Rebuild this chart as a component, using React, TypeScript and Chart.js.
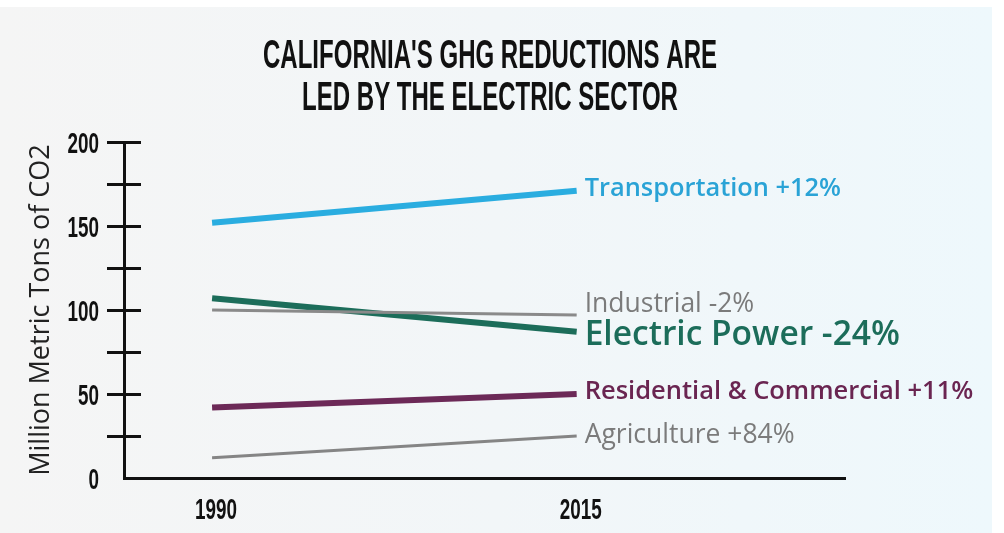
import React, { useEffect, useRef } from "react";
import { Chart, registerables } from "chart.js";

Chart.register(...registerables);

// ---- data ----
const TITLE_LINES = ["CALIFORNIA'S GHG REDUCTIONS ARE", "LED BY THE ELECTRIC SECTOR"];
const YEARS = [1990, 2015];
const SECTOR_LABELS = [
  "Transportation +12%",
  "Industrial -2%",
  "Electric Power -24%",
  "Residential & Commercial +11%",
  "Agriculture +84%",
];
const transportation = [152, 171];
const industrial = [100, 97];
const electricPower = [107, 87];
const residentialCommercial = [42, 50];
const agriculture = [12, 25];
const Y_AXIS_TITLE = "Million Metric Tons of CO2";
const Y_LABELED_STEP = 50;

// ---- styles ----
const SERIES_STYLE = [
  { line: "#2aade0", text: "#2aa3d6", width: 6, size: 25.4, weight: "600", dy: 5 },
  { line: "#8a8a8a", text: "#7b7b7b", width: 3, size: 26.5, weight: "400", dy: -3 },
  { line: "#1c6d5a", text: "#1c6d5a", width: 6, size: 33.5, weight: "600", dy: 13 },
  { line: "#6c2957", text: "#6a2551", width: 6, size: 25.5, weight: "600", dy: 5 },
  { line: "#858585", text: "#7b7b7b", width: 3, size: 26.5, weight: "400", dy: 7 },
];
const DISPLAY = "'Liberation Sans', Arial, sans-serif";
const SANS = "'Open Sans', 'Noto Sans', sans-serif";
const INK = "#111111";
const TITLE_WIDTH = 454; // width of the first title line
const TICK_SQUEEZE = 0.65;

const backgroundPlugin = {
  id: "panelBackground",
  beforeDraw(chart: any) {
    const { ctx } = chart;
    const g = ctx.createLinearGradient(0, 0, 992, 0);
    g.addColorStop(0, "#f5f5f5");
    g.addColorStop(0.5, "#f2f6f8");
    g.addColorStop(1, "#eef8fc");
    ctx.save();
    ctx.fillStyle = g;
    ctx.fillRect(0, 7, 992, chart.height - 7);
    ctx.restore();
  },
};

const titlePlugin = {
  id: "condensedTitle",
  afterDraw(chart: any) {
    const { ctx } = chart;
    ctx.save();
    ctx.fillStyle = INK;
    ctx.font = `bold 40px ${DISPLAY}`;
    ctx.textAlign = "center";
    ctx.textBaseline = "alphabetic";
    const squeeze = TITLE_WIDTH / ctx.measureText(TITLE_LINES[0]).width;
    const cx = 490;
    const baselines = [68, 110];
    TITLE_LINES.forEach((t, i) => {
      ctx.save();
      ctx.translate(cx, baselines[i]);
      ctx.scale(squeeze, 1);
      ctx.fillText(t, 0, 0);
      ctx.restore();
    });
    ctx.restore();
  },
};

// condensed tick labels placed from the scales' own ticks
const tickLabelPlugin = {
  id: "condensedTicks",
  afterDraw(chart: any) {
    const { ctx, chartArea } = chart;
    const xs = chart.scales.x;
    const ys = chart.scales.y;
    ctx.save();
    ctx.fillStyle = INK;
    ctx.font = `bold 29px ${DISPLAY}`;
    ctx.textBaseline = "alphabetic";
    // y axis
    ctx.textAlign = "right";
    ys.ticks.forEach((t: any) => {
      if (t.value % Y_LABELED_STEP !== 0) return;
      const py = ys.getPixelForValue(t.value);
      ctx.save();
      ctx.translate(chartArea.left - 25, py + 10.5);
      ctx.scale(TICK_SQUEEZE, 1);
      ctx.fillText(String(t.value), 0, 0);
      ctx.restore();
    });
    // x axis
    ctx.textAlign = "center";
    xs.ticks.forEach((t: any) => {
      const px = xs.getPixelForValue(t.value);
      ctx.save();
      ctx.translate(px + 4, chartArea.bottom + 41);
      ctx.scale(TICK_SQUEEZE, 1);
      ctx.fillText(String(t.value), 0, 0);
      ctx.restore();
    });
    ctx.restore();
  },
};

// tick marks that cross the y axis: draw the half inside the plot area
const innerTicksPlugin = {
  id: "innerTicks",
  afterDraw(chart: any) {
    const { ctx } = chart;
    const y = chart.scales.y;
    const x0 = chart.chartArea.left;
    ctx.save();
    ctx.strokeStyle = INK;
    ctx.lineWidth = 3;
    y.ticks.forEach((t: any) => {
      if (t.value === 0) return;
      const py = Math.round(y.getPixelForValue(t.value)) + 0.5;
      ctx.beginPath();
      ctx.moveTo(x0, py);
      ctx.lineTo(x0 + 17, py);
      ctx.stroke();
    });
    ctx.restore();
  },
};

const endLabelsPlugin = {
  id: "endLabels",
  afterDatasetsDraw(chart: any) {
    const { ctx } = chart;
    ctx.save();
    ctx.textAlign = "left";
    ctx.textBaseline = "alphabetic";
    chart.data.datasets.forEach((ds: any, i: number) => {
      const meta = chart.getDatasetMeta(i);
      const pt = meta.data[meta.data.length - 1];
      const st = SERIES_STYLE[i];
      ctx.font = `${st.weight} ${st.size}px ${SANS}`;
      ctx.fillStyle = st.text;
      ctx.fillText(SECTOR_LABELS[i], pt.x + 8, pt.y + st.dy);
    });
    ctx.restore();
  },
};

export default function App() {
  const canvasRef = useRef<HTMLCanvasElement>(null);

  useEffect(() => {
    if (!canvasRef.current) return;
    const series = [transportation, industrial, electricPower, residentialCommercial, agriculture];
    const chart = new Chart(canvasRef.current, {
      type: "line",
      data: {
        datasets: series.map((vals, i) => ({
          label: SECTOR_LABELS[i],
          data: YEARS.map((yr, j) => ({ x: yr, y: vals[j] })),
          borderColor: SERIES_STYLE[i].line,
          borderWidth: SERIES_STYLE[i].width,
          borderCapStyle: "butt",
          pointRadius: 0,
          fill: false,
          tension: 0,
        })),
      },
      options: {
        animation: false,
        responsive: false,
        devicePixelRatio: 1,
        layout: { padding: { top: 142, right: 159, left: 25, bottom: 0 } },
        plugins: {
          legend: { display: false },
          title: { display: false },
          tooltip: { enabled: false },
        },
        scales: {
          x: {
            type: "linear",
            min: 1983.96,
            max: 2033.4,
            afterBuildTicks: (s: any) => {
              s.ticks = YEARS.map((v) => ({ value: v }));
            },
            afterFit: (s: any) => {
              s.height = 55;
            },
            grid: { display: false, drawTicks: false },
            border: { display: true, color: INK, width: 3 },
            ticks: { display: false },
          },
          y: {
            min: 0,
            max: 200,
            afterFit: (s: any) => {
              s.width = 99;
            },
            grid: {
              drawOnChartArea: false,
              drawTicks: true,
              tickLength: 17,
              lineWidth: 3,
              color: (c: any) => (c.tick && c.tick.value === 0 ? "rgba(0,0,0,0)" : INK),
            },
            border: { display: true, color: INK, width: 3 },
            ticks: { display: false, stepSize: 25 },
            title: {
              display: true,
              text: Y_AXIS_TITLE,
              color: "#222222",
              padding: 0,
              font: { family: SANS, size: 27 },
            },
          },
        },
      },
      plugins: [backgroundPlugin, titlePlugin, tickLabelPlugin, innerTicksPlugin, endLabelsPlugin],
    } as any);
    return () => chart.destroy();
  }, []);

  return (
    <div style={{ position: "absolute", left: 0, top: 0 }}>
      <canvas ref={canvasRef} width={1004} height={533} />
    </div>
  );
}
